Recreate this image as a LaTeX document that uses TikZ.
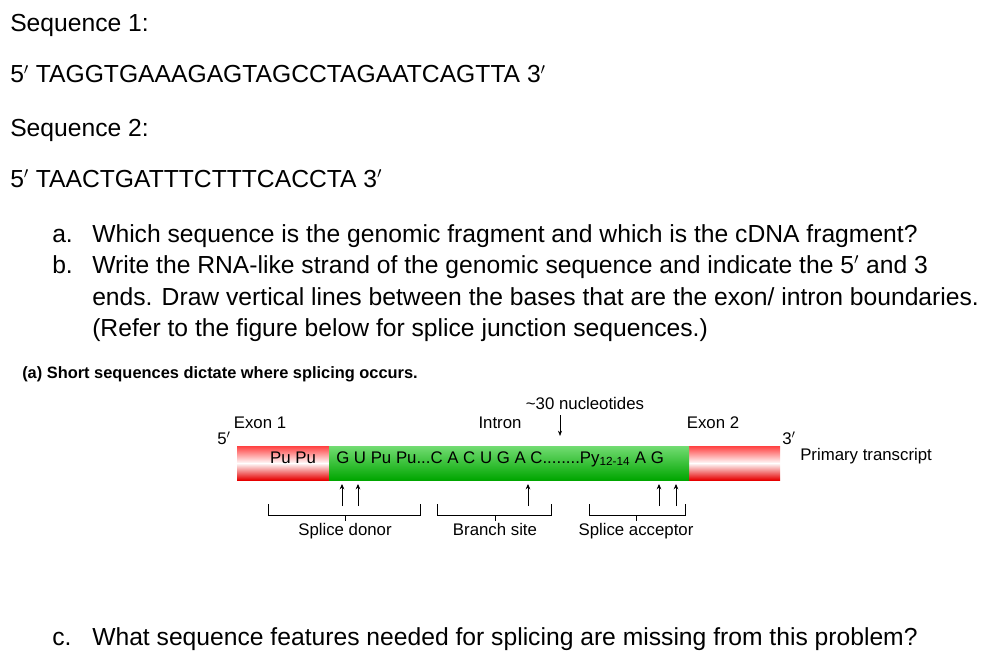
\documentclass[tikz,border=0pt]{standalone}
\usepackage{fontspec}
\setmainfont{Liberation Sans}
\usetikzlibrary{arrows.meta, positioning}

\tikzset{
  bigtext/.style={anchor=base west, inner sep=0pt, font=\fontsize{18.5}{22}\selectfont},
  smalltext/.style={inner sep=0pt, font=\fontsize{12.6}{15}\selectfont},
  uparrow/.style={-{Stealth[length=4pt,width=3.5pt]}, semithick},
  bracket/.style={semithick}
}

\begin{document}
\begin{tikzpicture}[x=0.75pt, y=-0.75pt]
\useasboundingbox (0,0) rectangle (1008,667);

% Question text
\node[bigtext] (seq1) at (10,32) {Sequence 1:};
\node[bigtext] (s1) at (10,83) {5$'$ TAGGTGAAAGAGTAGCCTAGAATCAGTTA 3$'$};
\node[bigtext] (seq2) at (10,137) {Sequence 2:};
\node[bigtext] (s2) at (10,187) {5$'$ TAACTGATTTCTTTCACCTA 3$'$};
\node[bigtext] (qa) at (52,242) {a.};
\node[bigtext] (ta) at (92,242) {Which sequence is the genomic fragment and which is the cDNA fragment?};
\node[bigtext] (qb) at (52,273) {b.};
\node[bigtext] (tb1) at (92,273) {Write the RNA-like strand of the genomic sequence and indicate the 5$'$ and 3};
\node[bigtext] (tb2) at (92,305) {ends. Draw vertical lines between the bases that are the exon/ intron boundaries.};
\node[bigtext] (tb3) at (92,336) {(Refer to the figure below for splice junction sequences.)};
\node[bigtext] (qc) at (52,645) {c.};
\node[bigtext] (tc) at (92,645) {What sequence features needed for splicing are missing from this problem?};

% Figure caption
\node[smalltext, anchor=base west, font=\bfseries\fontsize{12.3}{15}\selectfont] (cap) at (22,378) {(a) Short sequences dictate where splicing occurs.};

% Transcript bar
\foreach \l/\r in {237/329, 689/780} {
  \shade[top color=red!75, bottom color=white] (\l,446) rectangle (\r,463.5);
  \shade[top color=white, bottom color=red!90!black] (\l,463) rectangle (\r,480);
}
\shade[top color=green!75!black!55, bottom color=green!65!black] (329,446) rectangle (689,480);

% Labels on the bar
\node[smalltext, anchor=base] (pupu) at (293,463) {Pu Pu};
\node[smalltext, anchor=base west] (intseq) at (336,463) {G U Pu Pu...C A C U G A C........Py\textsubscript{12-14} A G};
\node[smalltext, anchor=base] (ex1) at (260,428) {Exon 1};
\node[smalltext, anchor=base] (intr) at (500,428) {Intron};
\node[smalltext, anchor=base] (ex2) at (713,428) {Exon 2};
\node[smalltext, anchor=base] (five) at (224,444) {5$'$};
\node[smalltext, anchor=base] (three) at (789,444) {3$'$};
\node[smalltext, anchor=base west] (prim) at (800,460) {Primary transcript};
\node[smalltext, anchor=base] (nuc) at (585,409) {\textasciitilde 30 nucleotides};
\coordinate (nucend) at (560,436);
\draw[-{Stealth[length=4pt,width=3pt]}] (560,415) -- (nucend);

% Arrows to splice sites
\foreach \x in {342,358,528,659,676} {
  \draw[uparrow] (\x,506) -- (\x,484);
}

% Brackets
\foreach \a/\b/\m in {268/420/345, 437/551/495, 589/685/636} {
  \draw[bracket] (\a,504) -- (\a,515) -- (\b,515) -- (\b,504);
  \draw[bracket] (\m,515) -- (\m,521);
}
\node[smalltext, anchor=base] (donor) at (345,535) {Splice donor};
\node[smalltext, anchor=base] (branch) at (495,535) {Branch site};
\node[smalltext, anchor=base] (acceptor) at (636,535) {Splice acceptor};
\end{tikzpicture}
\end{document}
